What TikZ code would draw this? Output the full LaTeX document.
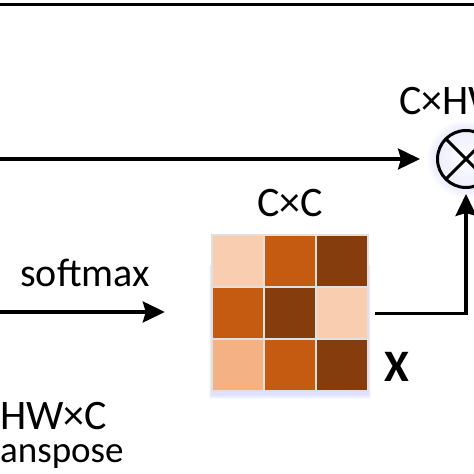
\documentclass[tikz,border=0pt]{standalone}
\usepackage{fontspec}
\setmainfont{Carlito}
\usepackage{xcolor}
\usepackage{tikz}
\usetikzlibrary{positioning,arrows.meta}
\definecolor{pale}{RGB}{248,205,176}
\definecolor{peach}{RGB}{244,178,132}
\definecolor{rust}{RGB}{197,90,17}
\definecolor{umber}{RGB}{133,61,13}
\tikzset{
flow/.style={line width=3.2pt, -{Stealth[length=22pt,width=21pt,inset=3pt]}},
rule/.style={line width=3pt},
lbl/.style={inner sep=0pt, font=\fontsize{42}{46}\selectfont},
cell/.style={draw=black!12, line width=1.5pt, minimum size=52pt, inner sep=0pt},
mult/.style={circle, draw, line width=3pt, minimum size=57pt, inner sep=0pt,
  inner color=white, outer color=blue!7,
  path picture={\draw[line width=3pt] (path picture bounding box.north west) -- (path picture bounding box.south east)
    (path picture bounding box.south west) -- (path picture bounding box.north east);}}
}

\begin{document}
\begin{tikzpicture}[x=1pt,y=1pt]
\useasboundingbox (0,0) rectangle (474,474);
\coordinate (tl) at (0,469);
\coordinate (tr) at (474,469);
\draw[rule] (tl) -- (tr);

\coordinate (mc) at (466,315);
\foreach \g in {2,4,...,10}
  \fill[blue!35, opacity=0.05] (mc) circle (28.5+\g);
\node[mult] (mul) at (mc) {};
\node[lbl, anchor=base west] (chw) at (399,359) {C×HW};

\node[minimum width=156pt, minimum height=157pt, inner sep=0pt] (grid) at (290,160.5) {};
\foreach \g in {1,...,5}
  \fill[blue!40, opacity=0.07] ([shift={(-\g/2,-\g-2)}]grid.south west) rectangle ([shift={(\g/2,-30)}]grid.north east);
\foreach \r/\c/\col in {0/0/pale, 0/1/rust, 0/2/umber, 1/0/rust, 1/1/umber, 1/2/pale, 2/0/peach, 2/1/rust, 2/2/umber}
  \node[cell, fill=\col] (c\r\c) at (238+52*\c, 213-52*\r) {};
\node[lbl, anchor=base] (cc) at (290,257) {C×C};
\node[inner sep=0pt, anchor=base, font=\fontsize{45}{50}\selectfont\bfseries] (xm) at (397,92) {X};

\coordinate (in) at (0,315);
\draw[flow, shorten >=16pt] (in) -- (mul);
\draw[flow, shorten <=7pt, shorten >=5pt] (grid.east) -| (mul.south);

\coordinate (sm) at (0,162);
\draw[flow, shorten >=47pt] (sm) -- (sm -| grid.west);
\node[inner sep=0pt, anchor=base, font=\fontsize{40}{44}\selectfont] (smx) at (85,187) {softmax};

\node[lbl, anchor=base west, text depth=0pt] (hwc) at (0,44) {HW×C};
\node[inner sep=0pt, anchor=base west, text height=18pt, font=\fontsize{37}{40}\selectfont] (tp) at (0,12) {anspose};
\end{tikzpicture}
\end{document}
